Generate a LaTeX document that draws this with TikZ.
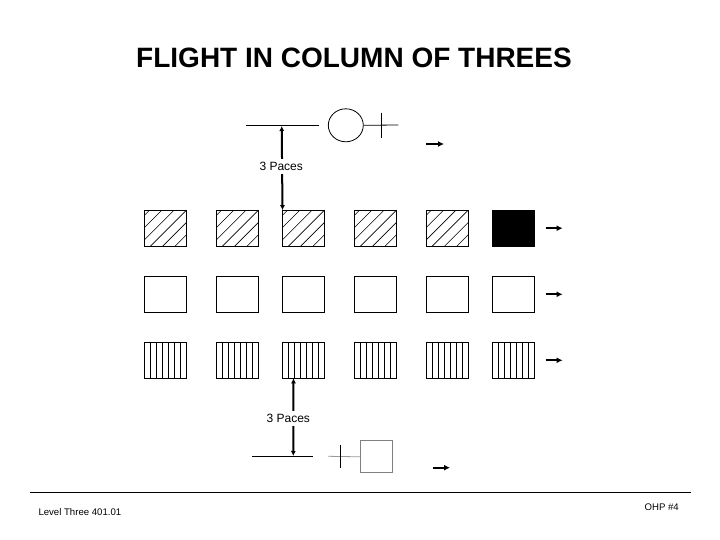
\documentclass[tikz,border=0pt]{standalone}
\usepackage{fontspec}
\setmainfont{Liberation Sans}
\usetikzlibrary{arrows.meta,shapes.geometric}

\tikzset{
	man/.style={draw=black, line width=1pt, minimum width=42pt, minimum height=36pt, inner sep=0pt, outer sep=0pt},
	diag/.style={man, path picture={
		\foreach \d in {-31,-18.7,-6.4,5.9,18.2,30.5}
			\draw[line width=0.6pt] ([xshift=\d pt]path picture bounding box.south west) -- ++(40,-40);}},
	stripe/.style={man, path picture={
		\foreach \d in {6,12,...,36}
			\draw[line width=0.6pt] ([xshift=\d pt]path picture bounding box.south west) -- ++(0,-40);}},
	lead/.style={man, fill=black},
	movearrow/.style={line width=2pt, -{Latex[length=6pt,width=6pt]}},
	pace/.style={line width=2pt, {Latex[length=5pt,width=5pt]}-{Latex[length=5pt,width=5pt]}},
	pacelabel/.style={fill=white, font=\fontsize{12}{14}\selectfont},
	foot/.style={font=\fontsize{9.6}{11}\selectfont, inner sep=0pt},
}

\begin{document}
\begin{tikzpicture}[x=1pt, y=-1pt]
	\useasboundingbox (0,0) rectangle (720,540);
	\node[anchor=base, font=\fontsize{28}{33}\selectfont\bfseries] (title) at (354,67.3) {FLIGHT IN COLUMN OF THREES};

	% flight commander
	\draw[line width=1pt] (246,126) -- (319,126);
	\coordinate (front) at (281.7,126);
	\node[draw, ellipse, line width=0.8pt, minimum width=35pt, minimum height=33pt, inner sep=0pt] (cmdr) at (345.8,125.3) {};
	\coordinate (sword) at (398.3,125);
	\draw[line width=0.8pt] (cmdr.east) -- (sword);
	\draw[line width=0.8pt] (381.7,112.7) -- (381.7,137.7);
	\draw[movearrow] (426,144) -- (444,144);

	% the flight
	\foreach \x [count=\c] in {165.5,237.5,303.5,375.5,447.3}
		\node[diag] (c\c r1) at (\x,228.2) {};
	\node[lead] (c6r1) at (513.6,228.2) {};
	\foreach \x [count=\c] in {165.5,237.5,303.5,375.5,447.3,513.6} {
		\node[man] (c\c r2) at (\x,294.3) {};
		\node[stripe] (c\c r3) at (\x,360.3) {};
	}
	\foreach \r in {1,2,3}
		\draw[movearrow] ([xshift=11pt]c6r\r.east) -- ++(17,0);

	% distances
	\draw[pace] (front) -- (c3r1.north west);
	\node[pacelabel] (pace1) at (281.2,166.7) {3 Paces};
	\coordinate (rear) at (293.3,456);
	\draw[pace] ([xshift=11pt]c3r3.south west) -- (rear);
	\node[pacelabel] (pace2) at (288.3,418.7) {3 Paces};

	% flight sergeant
	\draw[line width=1pt] (252.3,456) -- (312.7,456);
	\node[draw=gray, line width=1pt, minimum size=32pt, inner sep=0pt] (sgt) at (376.5,456.8) {};
	\draw[gray!80, line width=0.8pt] (328,456.3) -- (sgt.west);
	\draw[line width=1.2pt] (340.7,445) -- (340.7,468);
	\draw[movearrow] (432.7,467.7) -- (450,467.7);

	% footer
	\draw[line width=1pt] (30,492.3) -- (690.7,492.3);
	\node[foot, anchor=base west] (level) at (38.3,515.3) {Level Three 401.01};
	\node[foot, anchor=base east] (ohp) at (679,510.3) {OHP \#4};
\end{tikzpicture}
\end{document}
